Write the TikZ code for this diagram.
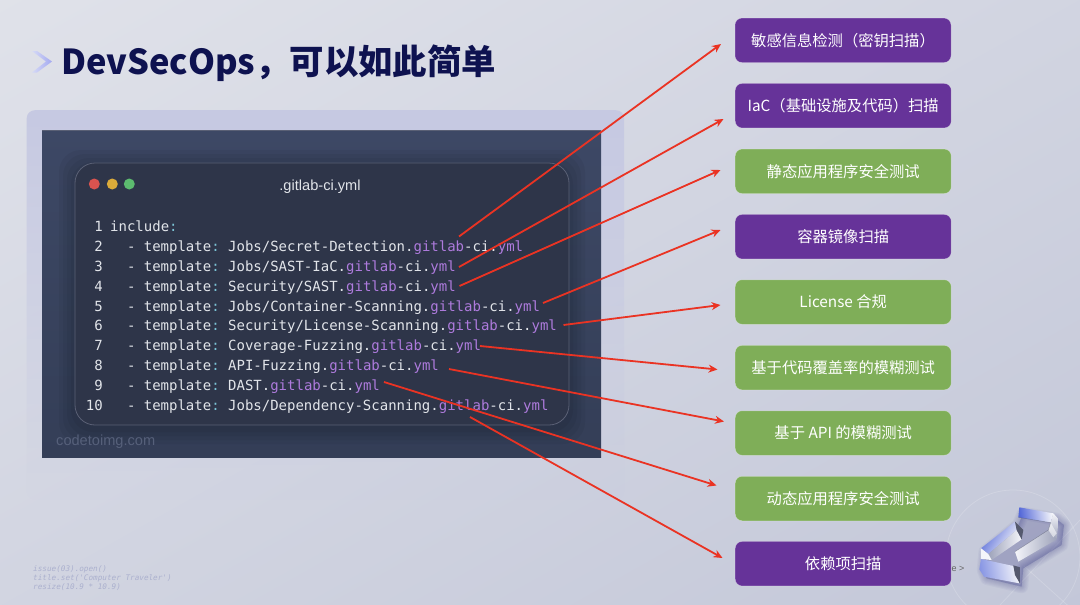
\documentclass[tikz,border=0pt]{standalone}
\usepackage{fontspec}
\usetikzlibrary{arrows.meta,shadings,fadings}
\setmainfont{Liberation Sans}
\newfontfamily\cjk{Noto Sans CJK SC}
\newfontfamily\codef{DejaVu Sans Mono}
\definecolor{bgA}{HTML}{EEEFF2}
\definecolor{bgM}{HTML}{CDD0DF}
\definecolor{bgB}{HTML}{B5BAD0}
\definecolor{pnl}{HTML}{C6C9E2}
\definecolor{dkA}{HTML}{3D4865}
\definecolor{dkB}{HTML}{343E57}
\definecolor{win}{HTML}{2E3549}
\definecolor{winb}{HTML}{5A6075}
\definecolor{codet}{HTML}{E2E5EA}
\definecolor{colon}{HTML}{7CC4D6}
\definecolor{yamlp}{HTML}{AE7BDD}
\definecolor{boxp}{HTML}{663399}
\definecolor{boxg}{HTML}{7FAE58}
\definecolor{arr}{HTML}{EA3323}
\definecolor{ttl}{HTML}{0E1250}
\definecolor{footc}{HTML}{ABB0CE}
\definecolor{wmc}{HTML}{56607A}
\definecolor{dotr}{HTML}{D9534F}
\definecolor{doty}{HTML}{DBAB3A}
\definecolor{dotg}{HTML}{5CBB6F}
\definecolor{steelA}{HTML}{F4F5FA}
\definecolor{steelB}{HTML}{9EA3BA}
\definecolor{steelC}{HTML}{5468D8}
\definecolor{steelD}{HTML}{55596E}
\definecolor{chevA}{HTML}{D6DAF6}
\definecolor{chevB}{HTML}{A3A9F0}
\newcommand{\yp}[1]{\textcolor{yamlp}{#1}}
\tikzfading[name=pfade,top color=transparent!0,bottom color=transparent!100]
\tikzset{
  x=1pt,y=-1pt,
  box/.style={rounded corners=7pt,minimum width=216pt,minimum height=44.5pt,inner sep=0pt,text=white,font=\cjk\fontsize{15.3}{18}\selectfont,draw opacity=.35,draw=white,line width=.5pt},
  pbox/.style={box,fill=boxp},
  gbox/.style={box,fill=boxg},
  codeline/.style={anchor=base west,inner sep=0pt,text=codet,font=\codef\frenchspacing\fontsize{14}{16}\selectfont},
  numline/.style={anchor=base east,inner sep=0pt,text=codet,font=\codef\fontsize{14}{16}\selectfont},
  conn/.style={draw=arr,line width=1.8pt,-{Stealth[length=9pt,width=8pt]}},
  dot/.style={circle,minimum size=11pt,inner sep=0pt},
  footline/.style={anchor=base west,inner sep=0pt,text=footc,font=\codef\itshape\fontsize{7.67}{9}\selectfont},
}
\begin{document}
\begin{tikzpicture}
\useasboundingbox (0,0) rectangle (1080,605);
\begin{scope}
\clip (0,0) rectangle (1080,605);
\shade[top color=bgA,middle color=bgM,bottom color=bgB,shading angle=29.3] (540-1056,302-1056) rectangle (540+1056,302+1056);
\end{scope}
% faint background lines
\begin{scope}[draw=white,opacity=.18,line width=.8pt]
\clip (900,440) rectangle (1080,605);
\draw (1013,557) circle[radius=67];
\draw (1024,566) -- (1075,612);
\draw (1080,520) -- (1000,605);
\end{scope}
% panel
\fill[pnl,rounded corners=8pt,path fading=pfade] (27,110) rectangle (625,500);
\shade[top color=dkA,bottom color=dkB] (42,130) rectangle (601,457.5);
\draw[winb,line width=.4pt] (42,130) -- (601,130);
% soft shadow of window
\foreach \i in {16,12,8,4}{
  \fill[black,opacity=.045,rounded corners=22pt] (75-\i,163-\i+3) rectangle (569+\i,425+\i+3);
}
\node[inner sep=0pt,anchor=base west,text=wmc,font=\fontsize{14.6}{16}\selectfont] (wm) at (56,445) {codetoimg.com};
\fill[win,draw=winb,line width=.8pt,rounded corners=20pt] (75,163) rectangle (569,425);
\node[dot,fill=dotr] (d1) at (94.3,184) {};
\node[dot,fill=doty] (d2) at (112.3,184) {};
\node[dot,fill=dotg] (d3) at (129.3,184) {};
\node[text=codet,inner sep=0pt,font=\fontsize{14.6}{15}\selectfont] (fname) at (320,186.5) {.gitlab-ci.yml};
% code
\node[numline] (n1) at (103,231) {1};
\node[codeline] (l1) at (110,231) {include\textcolor{colon}{:}};
\foreach \n/\y/\t in {
 2/251/Jobs\slash Secret-Detection,
 3/271/Jobs\slash SAST-IaC,
 4/291/Security\slash SAST,
 5/311/Jobs\slash Container-Scanning,
 6/330.5/Security\slash License-Scanning,
 7/350/Coverage-Fuzzing,
 8/370/API-Fuzzing,
 9/390/DAST,
 10/410/Jobs\slash Dependency-Scanning}{
  \node[numline] (n\n) at (103,\y) {\n};
  \node[codeline] (l\n) at (110,\y) {\hspace*{16.8pt}- template\textcolor{colon}{:} \t.\yp{gitlab}-ci.\yp{yml}};
}
% title
\shade[left color=chevA,right color=chevB] (32,51) -- (37,51) -- (52,61.5) -- (37,72.5) -- (32,72.5) -- (46,61.5) -- cycle;
\node[anchor=base west,inner sep=0pt,text=ttl,font=\cjk\bfseries\fontsize{34.4}{40}\selectfont] (title) at (61,74) {DevSecOps，可以如此简单};
% boxes
\node[pbox] (b1) at (843,40.3) {敏感信息检测（密钥扫描）};
\node[pbox] (b2) at (843.2,105.7) {IaC（基础设施及代码）扫描};
\node[gbox] (b3) at (843.2,171.3) {静态应用程序安全测试};
\node[pbox] (b4) at (843.2,236.7) {容器镜像扫描};
\node[gbox] (b5) at (843.2,302) {License 合规};
\node[gbox] (b6) at (843.2,367.6) {基于代码覆盖率的模糊测试};
\node[gbox] (b7) at (843.2,433) {基于 API 的模糊测试};
\node[gbox] (b8) at (843.2,498.5) {动态应用程序安全测试};
\node[pbox] (b9) at (843.2,563.7) {依赖项扫描};
% connectors
\foreach \k/\sx/\sy/\ex/\ey in {1/459/236.5/721/44,2/459/267/723.5/119,3/459.5/286/720.5/170,4/543/303/720.5/230,5/563.5/325/720.5/305,6/480/346/717.5/369.5,7/449/369/724/421.5,8/384/382/716.5/485.5,9/470/417/722.5/558}{
  \coordinate (s\k) at (\sx,\sy);
  \coordinate (e\k) at (\ex,\ey);
  \draw[conn] (s\k) -- (e\k);
}
% footer
\node[footline] (foot1) at (33,571) {issue(03).open()};
\node[footline] (foot2) at (33,580) {title.set('Computer Traveler')};
\node[footline] (foot3) at (33,589) {resize(10.9 * 10.9)};
\node[anchor=base west,inner sep=0pt,text=gray!80!black,font=\fontsize{9}{10}\selectfont] (pg) at (951.5,571) {e >};
% logo
\begin{scope}[shift={(880,480)},x=.3333pt,y=-.3333pt]
\foreach \i in {1,...,6}{
  \fill[black!60!blue,opacity=.03,line join=round,draw=black!60!blue,line width=\i*2.2pt]
    (430,100) -- (530,118) -- (552,135) -- (545,195) -- (430,265) -- (425,320) -- (320,295) -- (310,270) -- (315,215) -- (415,135) -- cycle;
}
% upper bracket
\shade[left color=steelC,right color=steelA,shading angle=100] (418,82) -- (520,100) -- (512,128) -- (415,112) -- cycle;
\shade[top color=steelA,bottom color=steelB] (512,128) -- (520,100) -- (536,118) -- (530,178) -- (505,150) -- cycle;
\shade[left color=steelA,right color=steelB] (505,150) -- (530,178) -- (415,245) -- (405,215) -- cycle;
\fill[white,opacity=.55] (505,150) -- (512,128) -- (530,160) -- (520,172) -- cycle;
\draw[steelD,line width=.5pt,opacity=.5] (415,112) -- (512,128) -- (505,150) -- (405,215);
% lower bracket
\shade[left color=steelC,right color=steelA,shading angle=60] (303,205) -- (405,125) -- (410,150) -- (325,222) -- cycle;
\shade[left color=steelB,right color=steelA] (410,150) -- (425,178) -- (335,240) -- (325,222) -- cycle;
\fill[steelD] (405,125) -- (430,150) -- (425,178) -- (410,150) -- cycle;
\fill[steelA] (303,205) -- (325,222) -- (335,240) -- (303,237) -- cycle;
\shade[left color=steelC!70!white,right color=steelA,shading angle=100] (303,237) -- (400,258) -- (418,310) -- (312,290) -- (298,268) -- cycle;
\fill[steelD] (400,256) -- (420,262) -- (420,310) -- (405,285) -- cycle;
\end{scope}
\end{tikzpicture}
\end{document}
